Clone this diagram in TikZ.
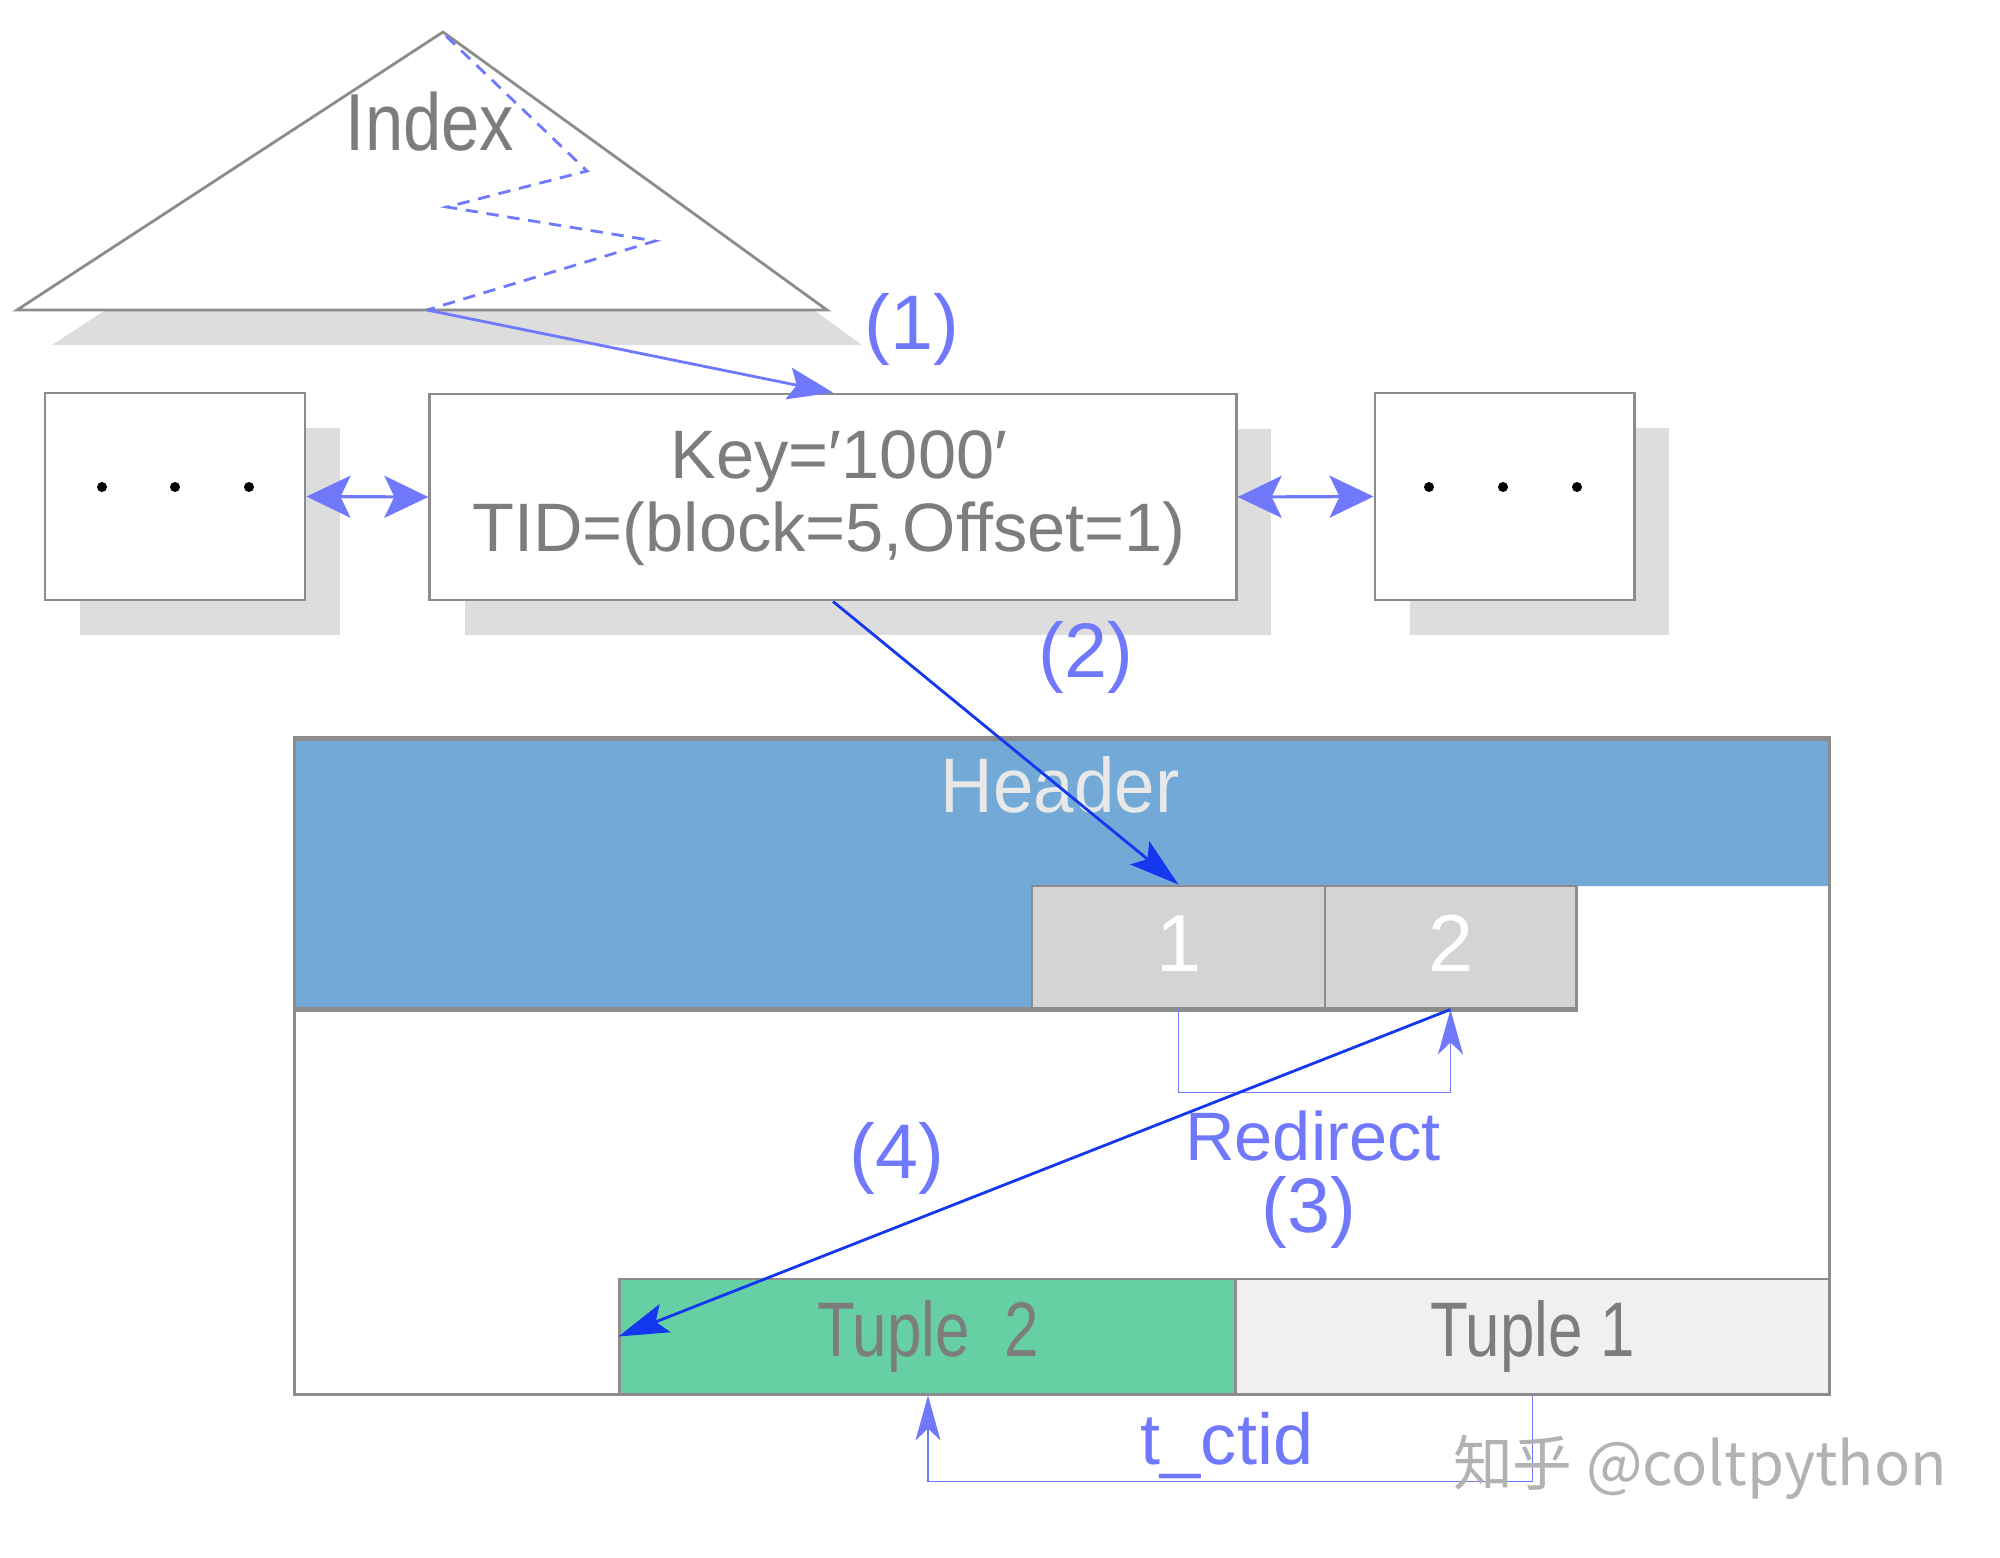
\documentclass[tikz,border=0pt]{standalone}
\usepackage{fontspec}
\setmainfont{Liberation Sans}
\newfontfamily\cjk{Noto Sans CJK SC}
\usetikzlibrary{arrows.meta}
\definecolor{lineg}{RGB}{140,140,140}
\definecolor{shad}{RGB}{221,221,221}
\definecolor{hdrblue}{RGB}{115,169,214}
\definecolor{slotg}{RGB}{212,212,212}
\definecolor{tupgreen}{RGB}{102,207,163}
\definecolor{tupgray}{RGB}{240,240,240}
\definecolor{lblue}{RGB}{112,120,252}
\definecolor{dblue}{RGB}{20,55,240}
\definecolor{txtg}{RGB}{125,125,125}
\definecolor{wmark}{RGB}{178,178,178}
\begin{document}
\begin{tikzpicture}[x=0.01cm,y=-0.01cm,
  box/.style={draw=lineg, line width=0.8pt, fill=white, inner sep=0pt},
  graytext/.style={text=txtg, inner sep=0pt},
  bluelbl/.style={text=lblue, inner sep=0pt, font=\fontsize{22}{26}\selectfont},
  slotbox/.style={draw=lineg, line width=0.8pt, fill=slotg, inner sep=0pt, minimum height=1.22cm, text=white, font=\fontsize{23}{27}\selectfont},
  tuplebox/.style={draw=lineg, line width=0.8pt, inner sep=0pt, minimum height=1.15cm, text=txtg, font=\fontsize{22}{26}\selectfont},
  lightarrow/.style={lblue, line width=0.8pt, -{Stealth[length=0.45cm,width=0.32cm,inset=0.08cm]}},
  darkarrow/.style={dblue, line width=0.8pt, -{Stealth[length=0.5cm,width=0.3cm,inset=0.1cm]}},
  bracketarrow/.style={lblue, line width=0.5pt, -{Stealth[length=0.45cm,width=0.25cm,inset=0.12cm]}},
  dblarrow/.style={lblue, line width=0.9pt, {Stealth[length=0.44cm,width=0.42cm,inset=0.1cm]}-{Stealth[length=0.44cm,width=0.42cm,inset=0.1cm]}},
  dotmark/.style={circle, fill=black, inner sep=0pt, minimum size=0.1cm}
]
\useasboundingbox (0,0) rectangle (2000,1557);

% ---------- index triangle ----------
\fill[shad] (478,67) -- (52,345) -- (862,345) -- cycle;
\draw[lineg, line width=0.8pt, fill=white] (443,32) -- (17,310) -- (827,310) -- cycle;
\node[graytext, anchor=base, font=\fontsize{23}{27}\selectfont] (idx) at (430,150) {\scalebox{0.85}[1]{Index}};
\coordinate (leaf) at (427,310);
\draw[lblue, line width=0.8pt, dash pattern=on 3.5pt off 2.5pt] (446,36) -- (587,171) -- (447,207) -- (655,241) -- (leaf);

% ---------- leaf pages ----------
\fill[shad] (80,428) rectangle (340,635);
\fill[shad] (465,429) rectangle (1271,635);
\fill[shad] (1410,428) rectangle (1669,635);
\node[box, minimum width=2.60cm, minimum height=2.07cm] (left) at (175,496.5) {};
\node[box, minimum width=8.06cm, minimum height=2.06cm] (key) at (833,497) {};
\node[box, minimum width=2.59cm, minimum height=2.07cm] (right) at (1504.5,496.5) {};
\node[graytext, anchor=base, font=\fontsize{19.5}{22}\selectfont] (k1) at (839,478) {Key=′1000′};
\node[graytext, anchor=base, font=\fontsize{19.5}{22}\selectfont] (k2) at (829,551) {TID=(block=5,Offset=1)};
\node[dotmark] (ld1) at (102,487) {};
\node[dotmark] (ld2) at (175,487) {};
\node[dotmark] (ld3) at (249,487) {};
\node[dotmark] (rd1) at (1429,487) {};
\node[dotmark] (rd2) at (1503,487) {};
\node[dotmark] (rd3) at (1577,487) {};
\draw[dblarrow] (left.east) -- (key.west);
\draw[dblarrow] (key.east) -- (right.west);

% ---------- heap page ----------
\fill[hdrblue] (295,740) -- (1829,740) -- (1829,886) -- (1032,886) -- (1032,1008) -- (295,1008) -- cycle;
\node[draw=lineg, line width=0.8pt, inner sep=0pt, minimum width=15.34cm, minimum height=6.54cm] (page) at (1062,1067) {};
\node[text=white!91!black, inner sep=0pt, anchor=base, font=\fontsize{22}{26}\selectfont] (hdr) at (1060,812) {\scalebox{0.94}[1]{Header}};
\node[slotbox, minimum width=2.93cm] (s1) at (1178.5,947) {\raisebox{2pt}{1}};
\node[slotbox, minimum width=2.51cm] (s2) at (1450.5,947) {\raisebox{2pt}{2}};
\draw[lineg, line width=1.3pt] (page.west |- s2.south) -- (s2.south east);
\draw[lineg, line width=1.2pt] (page.north west) -- (page.north east);

\node[tuplebox, fill=tupgreen, minimum width=6.16cm] (t2) at (928,1336.5) {\scalebox{0.8}[1]{Tuple~~2}};
\node[tuplebox, fill=tupgray, minimum width=5.93cm] (t1) at (1532.5,1336.5) {\scalebox{0.8}[1]{Tuple 1}};

% ---------- connectors ----------
\draw[lightarrow] (leaf) -- (key.north);
\node[bluelbl] (l1) at (912,329) {(1)};

\draw[darkarrow] (key.south) -- (s1.north);
\node[bluelbl] (l2) at (1086,657) {(2)};

\draw[bracketarrow] (s1.south) -- ++(0,83) -| (s2.south);
\node[text=lblue, inner sep=0pt, font=\fontsize{19.5}{23}\selectfont] (redir) at (1313,1136) {Redirect};
\node[bluelbl] (l3) at (1309,1212) {(3)};

\draw[darkarrow] (s2.south) -- (t2.west);
\node[bluelbl] (l4) at (897,1158) {(4)};

\draw[bracketarrow] (t1.south) -- ++(0,86) -| (t2.south);
\node[text=lblue, inner sep=0pt, anchor=base, font=\fontsize{20.5}{24}\selectfont] (tc) at (1227,1464) {t\_ctid};

% ---------- watermark ----------
\node[text=wmark, inner sep=0pt, font=\cjk\fontsize{17}{20}\selectfont] (wm) at (1700,1467) {知乎 @coltpython};
\end{tikzpicture}
\end{document}
